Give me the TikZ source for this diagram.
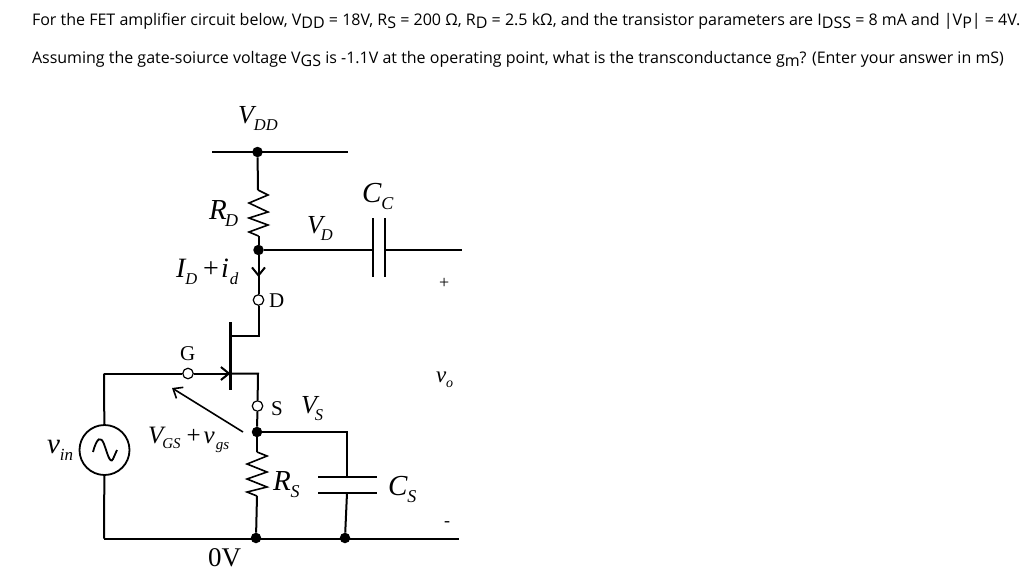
\documentclass[tikz,border=0pt]{standalone}
\usepackage{fontspec}
\setmainfont{Liberation Serif}
\newfontfamily\qfont{Open Sans}
\usetikzlibrary{arrows.meta}
\newcommand{\fs}[1]{\fontsize{#1}{#1}\selectfont}
\newcommand{\qsub}[1]{\raisebox{-3pt}{#1}}
\newcommand{\lab}[2]{{\fs{26}\itshape #1}\raisebox{-7.5pt}{\fs{16.5}\itshape #2}}
\newcommand{\labb}[2]{{\fs{29}\itshape #1}\raisebox{-7.5pt}{\fs{18}\itshape #2}}
\tikzset{
  wire/.style={line width=2pt,black},
  thinwire/.style={line width=1.6pt,black},
  dotnode/.style={circle,fill=black,draw=none,minimum size=10.5pt,inner sep=0pt},
  term/.style={circle,fill=white,draw=black,line width=1.2pt,minimum size=10.5pt,inner sep=0pt},
  lbl/.style={anchor=base west,inner sep=0pt,outer sep=0pt},
  barb/.style={-{Straight Barb[length=8pt,width=13pt]}}
}
\begin{document}
\begin{tikzpicture}[x=1pt,y=-1pt]
\useasboundingbox (0,0) rectangle (1024,571);
\fill[white] (0,0) rectangle (1024,571);
% question text
\node[lbl] (q1) at (32,25) {\qfont\fs{16.03}For the FET amplifier circuit below, V\qsub{DD} = 18V, R\qsub{S} = 200 Ω, R\qsub{D} = 2.5 kΩ, and the transistor parameters are I\qsub{DSS} = 8 mA and |V\qsub{P}| = 4V.};
\node[lbl] (q2) at (32,63) {\qfont\fs{16}Assuming the gate-soiurce voltage V\qsub{GS} is -1.1V at the operating point, what is the transconductance g\qsub{m}? (Enter your answer in mS)};
% coordinates
\coordinate (vddL) at (212,152);
\coordinate (vddR) at (348,152);
\node[dotnode] (vddDot) at (257.5,152) {};
\node[dotnode] (dDot) at (258.5,250) {};
\coordinate (ccL) at (373,250);
\coordinate (ccR) at (385,250);
\coordinate (outR) at (462,250);
\coordinate (idArrow) at (258.5,277);
\node[term] (dTerm) at (258.5,300) {};
\coordinate (drainCorner) at (258.5,336);
\coordinate (drainBar) at (230.5,336);
\coordinate (barTop) at (230.5,322);
\coordinate (barBot) at (230.5,390);
\coordinate (gateBar) at (230.5,373.5);
\coordinate (sourceCorner) at (258,373.5);
\node[term] (sTerm) at (257.5,406) {};
\node[dotnode] (sDot) at (257,432) {};
\node[term] (gTerm) at (188,373.5) {};
\coordinate (gateCorner) at (104,373.5);
\node[circle,draw=black,line width=1.8pt,minimum size=50pt,inner sep=0pt] (src) at (104.5,450) {};
\coordinate (botL) at (104,538.5);
\coordinate (botR) at (459,538.5);
\node[dotnode] (gndA) at (256,538) {};
\node[dotnode] (gndB) at (345,538) {};
\coordinate (csCorner) at (347,432);
\coordinate (csTop) at (347,477);
\coordinate (csBot) at (347,493);
\coordinate (rdTop) at (258,190);
\coordinate (rdBot) at (258.5,236);
\coordinate (rsTop) at (257,452);
\coordinate (rsBot) at (257,496);
\coordinate (arrS) at (243,432);
\coordinate (arrG) at (172,388);
% wiring
\draw[wire] (vddL) -- (vddR);
\draw[wire] (vddDot) -- (rdTop);
\draw[thinwire,line join=miter] (rdTop) -- (268,195) -- (249,203) -- (268,212) -- (249,218) -- (268,225) -- (249,232) -- (rdBot);
\draw[wire] (rdBot) -- (dDot);
\draw[wire] (dDot) -- (ccL);
\draw[wire] (373,218) -- (373,277);
\draw[wire] (385,218) -- (385,277);
\draw[wire] (ccR) -- (outR);
\draw[wire] (dDot) -- (dTerm);
\draw[wire,barb] (dDot) -- (idArrow);
\draw[wire] (dTerm) -- (drainCorner) -- (drainBar);
\draw[line width=2.6pt] (barTop) -- (barBot);
\draw[wire] (gateCorner) -- (gTerm);
\draw[wire] (gTerm) -- (gateBar);
\draw[wire,barb] (gTerm) -- (gateBar);
\draw[wire] (gateBar) -- (sourceCorner) -- (sTerm);
\draw[wire] (sTerm) -- (sDot);
\draw[wire] (gateCorner) -- (src);
\draw[wire] (src) -- (botL);
\draw[thinwire,barb] (arrS) -- (arrG);
\draw[wire] (sDot) -- (rsTop);
\draw[thinwire,line join=miter] (rsTop) -- (267,456) -- (247,464) -- (267,472) -- (247,479) -- (267,487) -- (247,492) -- (rsBot);
\draw[wire] (rsBot) -- (gndA);
\draw[wire] (sDot) -- (csCorner) -- (csTop);
\draw[wire] (318,477) -- (377,477);
\draw[wire] (318,493) -- (377,493);
\draw[wire] (csBot) -- (gndB);
\draw[wire] (botL) -- (botR);
\draw[line width=1.8pt] (93,452) .. controls (97,437) and (101,436) .. (104,444) .. controls (107,452) and (110,465) .. (113,459) -- (117,450);
% labels
\node[lbl] (lVdd) at (238,123) {\lab{V}{DD}};
\node[lbl] (lRd) at (209,219) {\labb{R}{\kern-1.5pt D}};
\node[lbl] (lCc) at (362,202) {\labb{C}{C}};
\node[lbl] (lVd) at (307,233) {\lab{V}{\kern-2pt D}};
\node[lbl] (lId) at (176,277) {{\fs{28}\itshape I}\raisebox{-7.5pt}{\fs{16.5}\itshape D}\kern6pt{\fs{28}+}\kern2pt{\fs{28}\itshape i}\raisebox{-7.5pt}{\fs{17}\itshape\kern1pt d}};
\node[lbl] (lD) at (269,307) {\fs{21}D};
\node[lbl] (lPlus) at (439,288) {\fs{18}+};
\node[lbl] (lG) at (180,360) {\fs{21}G};
\node[lbl] (lS) at (271,415) {\fs{21}S};
\node[lbl] (lVs) at (301,413) {\lab{V}{\kern-2pt S}};
\node[lbl] (lVgs) at (148,443) {{\fs{25}\itshape V}\raisebox{-5pt}{\fs{15}\itshape\kern-1pt GS}\kern6pt{\fs{25}+}\kern3pt{\fs{25}\itshape v}\raisebox{-6pt}{\fs{15}\itshape\kern1pt gs}};
\node[lbl] (lVin) at (47,453) {{\fs{29}\itshape v}\raisebox{-7pt}{\fs{17}\itshape in}};
\node[lbl] (lRs) at (273,490) {\labb{R}{S}};
\node[lbl] (lCs) at (388,495) {\labb{C}{S}};
\node[lbl] (lZero) at (208,566) {\fs{27}0V};
\node[lbl] (lVo) at (436,382) {{\fs{23}\itshape v}\raisebox{-5pt}{\fs{14}\itshape o}};
\node[lbl] (lMinus) at (444,526) {\fs{18}-};
\end{tikzpicture}
\end{document}
